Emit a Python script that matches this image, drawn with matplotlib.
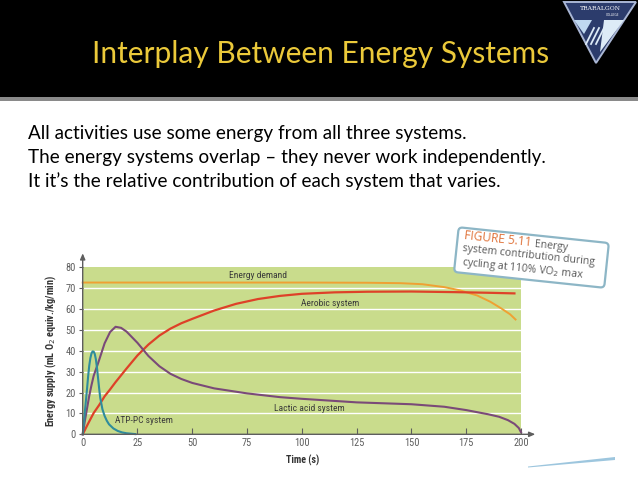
"""
Slide: Interplay Between Energy Systems
Energy system contribution during cycling at 110% VO2 max.
"""

import math

import matplotlib
matplotlib.use("Agg")
import matplotlib.pyplot as plt
import matplotlib.patches as mpatches
import matplotlib.transforms as mtransforms
from matplotlib import font_manager

# ── Data ──────────────────────────────────────────────────────────────────────
atp_t = [0, 0.5, 1, 1.5, 2, 2.5, 3, 3.5, 4, 4.5, 5, 5.5, 6, 6.5, 7, 7.5, 8,
         9, 10, 11, 12, 14, 16, 18, 20, 22, 24]
atp_v = [0, 5, 11, 16.5, 22, 28, 33, 36.5, 38.7, 39.7, 39.6, 38.5, 36, 32, 27,
         22, 17.5, 12, 8.8, 6.5, 4.8, 2.8, 1.6, 0.9, 0.5, 0.3, 0.1]

lactic_t = [0, 1, 2, 3, 4, 5, 7, 10, 12.5, 15, 17.5, 20, 25, 30, 35, 40, 45,
            50, 60, 75, 90, 100, 125, 150, 165, 175, 185, 190, 194, 197, 199, 200]
lactic_v = [0, 6.5, 12.5, 18.5, 23.5, 28, 34, 43.6, 49, 51.5, 51, 49.2, 43.8,
            37.5, 32.6, 29, 26.5, 24.6, 22, 19.6, 17.8, 17, 15.3, 14.4, 13.2,
            11.6, 9.6, 8.4, 6.8, 5, 3, 1]

aerobic_t = [0, 2.5, 5, 7.5, 10, 12.5, 15, 20, 25, 30, 35, 40, 45, 50, 60, 70,
             80, 90, 100, 115, 130, 150, 170, 185, 197]
aerobic_v = [0, 5.2, 10.2, 14, 18.2, 21.5, 25, 31.5, 37.8, 43, 47.3, 50.6,
             53.2, 55.3, 59.3, 62.5, 64.8, 66.3, 67.3, 68, 68.3, 68.4, 68.1,
             67.8, 67.5]

demand_t = [0, 50, 100, 130, 145, 155, 165, 172, 180, 186, 191, 195, 197.5]
demand_v = [72.7, 72.7, 72.7, 72.6, 72.4, 71.9, 70.5, 69, 66.5, 63.5, 60.3,
            57.5, 55]

x_ticks = [0, 25, 50, 75, 100, 125, 150, 175, 200]
y_ticks = [0, 10, 20, 30, 40, 50, 60, 70, 80]

body_lines = [
    "All activities use some energy from all three systems.",
    "The energy systems overlap \u2013 they never work independently.",
    "It it\u2019s the relative contribution of each system that varies.",
]

# ── Style ─────────────────────────────────────────────────────────────────────
W, H = 638, 478
TITLE_YELLOW = "#EBC93A"
PLOT_GREEN = "#C9DC8C"
AXIS_GREY = "#5E5E5E"
C_DEMAND = "#EFA133"
C_AEROBIC = "#DE4128"
C_LACTIC = "#7A4A78"
C_ATP = "#2F8C9C"
CARD_ANGLE = -6.0

_names = {f.name for f in font_manager.fontManager.ttflist}
NARROW = next((n for n in ("Liberation Sans Narrow", "Roboto Condensed", "DejaVu Sans Condensed")
               if n in _names), "DejaVu Sans")
SLIDE_FONT = "Lato" if "Lato" in _names else "DejaVu Sans"


def px(x, y):
    """Pixel (from top-left) -> figure fraction."""
    return x / W, 1 - y / H


fig = plt.figure(figsize=(W / 100, H / 100), dpi=100, facecolor="white")

# ── Header band ──────────────────────────────────────────────────────────────
fig.patches.append(mpatches.Rectangle(px(0, 97), 1, 97 / H, transform=fig.transFigure,
                                      facecolor="black", edgecolor="none", zorder=0))
fig.patches.append(mpatches.Rectangle(px(0, 101), 1, 4 / H, transform=fig.transFigure,
                                      facecolor="#8A8A8A", edgecolor="none", zorder=0))
fig.text(*px(321, 63), "Interplay Between Energy Systems", color=TITLE_YELLOW,
         fontsize=21.5, family=SLIDE_FONT, ha="center", va="baseline")

# logo (simple shield)
fig.patches.append(mpatches.Polygon([px(564, 2), px(636, 2), px(596, 63)], closed=True,
                                    transform=fig.transFigure, facecolor="#2C3C6C",
                                    edgecolor="#A9B6D4", linewidth=1.4, zorder=2))
fig.patches.append(mpatches.Polygon([px(574, 20), px(592, 20), px(584, 34)], closed=True,
                                    transform=fig.transFigure, facecolor="#BFD8F0",
                                    edgecolor="none", zorder=3))
fig.patches.append(mpatches.Polygon([px(604, 20), px(624, 20), px(600, 52)], closed=True,
                                    transform=fig.transFigure, facecolor="#DDEBF7",
                                    edgecolor="none", zorder=3))
for dx in (0, 5, 10):
    fig.lines.append(plt.Line2D([(586 + dx) / W, (594 + dx) / W],
                                [1 - 44 / H, 1 - 28 / H], transform=fig.transFigure,
                                color="#DDEBF7", lw=1.3, zorder=3))
fig.text(*px(600, 9), "TRARALGON", color="white", fontsize=4.3, ha="center",
         va="center", family="DejaVu Serif", zorder=4)
fig.text(*px(613, 15), "COLLEGE", color="white", fontsize=2.2, ha="center",
         va="center", zorder=4)

# ── Body text ────────────────────────────────────────────────────────────────
for i, line in enumerate(body_lines):
    fig.text(*px(28, 139 + 24 * i), line, fontsize=13.6, family=SLIDE_FONT,
             color="black", ha="left", va="baseline")

# ── Chart ────────────────────────────────────────────────────────────────────
x0, y0 = 82.7, 434.3
x1, y1 = 521.0, 267.3
ax = fig.add_axes([x0 / W, 1 - y0 / H, (x1 - x0) / W, (y0 - y1) / H])
ax.set_facecolor(PLOT_GREEN)
ax.set_xlim(0, 200)
ax.set_ylim(0, 80)
for s in ax.spines.values():
    s.set_visible(False)

ax.hlines(y_ticks[1:-1], 0, 200, color="white", lw=1.0, zorder=1)

ax.plot(demand_t, demand_v, color=C_DEMAND, lw=1.4, zorder=3, clip_on=False)
ax.plot(aerobic_t, aerobic_v, color=C_AEROBIC, lw=1.6, zorder=4, clip_on=False)
ax.plot(lactic_t, lactic_v, color=C_LACTIC, lw=1.5, zorder=4, clip_on=False)
ax.plot(atp_t, atp_v, color=C_ATP, lw=1.5, zorder=5, clip_on=False)

# axes with arrow heads
arrow = dict(arrowstyle="-|>,head_length=0.35,head_width=0.15", color=AXIS_GREY,
             lw=1.0, shrinkA=0, shrinkB=0)
ax.annotate("", xy=(206.5, 0), xytext=(0, 0), arrowprops=arrow,
            annotation_clip=False, zorder=6)
ax.annotate("", xy=(0, 86.7), xytext=(0, 0), arrowprops=arrow,
            annotation_clip=False, zorder=6)

ax.set_xticks(x_ticks)
ax.set_yticks(y_ticks)
ax.tick_params(axis="x", direction="in", length=4, width=0.8, color=AXIS_GREY,
               labelsize=7.5, labelcolor=AXIS_GREY, pad=3)
ax.tick_params(axis="y", direction="out", length=3, width=0.8, color=AXIS_GREY,
               labelsize=7.5, labelcolor=AXIS_GREY, pad=2)
for lab in ax.get_xticklabels() + ax.get_yticklabels():
    lab.set_family(NARROW)

lab_kw = dict(fontsize=6.8, family=NARROW, color="#3A3A3A", ha="center", va="center")
ax.text(80, 76.3, "Energy demand", **lab_kw)
ax.text(113, 62.7, "Aerobic system", **lab_kw)
ax.text(103.5, 12.4, "Lactic acid system", **lab_kw)
ax.text(28, 6.5, "ATP-PC system", **lab_kw)

ax.set_ylabel("Energy supply (mL O$_2$ equiv./kg/min)", fontsize=7.3,
              family=NARROW, fontweight="bold", color="#333333", labelpad=5)
fig.text(*px(303, 460), "Time (s)", fontsize=7.2, family=NARROW,
         fontweight="bold", color="#333333", ha="center", va="center")

# ── Figure caption card (rotated, built in pixel space) ─────────────────────
card = mpatches.FancyBboxPatch((0, 0), 151, 45,
                               boxstyle="round,pad=0,rounding_size=4",
                               facecolor="white", edgecolor="#8DB6C6",
                               linewidth=1.6, zorder=7)
card.set_transform(mtransforms.Affine2D().rotate_deg(CARD_ANGLE).translate(454, H - 272))
fig.patches.append(card)

cap_kw = dict(family="Open Sans", rotation=CARD_ANGLE, rotation_mode="anchor",
              ha="left", va="center", zorder=8)
fig.text(*px(464, 235.5), "FIGURE 5.11", color="#E0733A", fontsize=8.6, **cap_kw)

# place "Energy" right after the figure number, along the rotated baseline
renderer = fig.canvas.get_renderer()
probe = fig.text(0, 0, "FIGURE 5.11 ", fontsize=8.6, family="Open Sans")
adv = probe.get_window_extent(renderer).width
probe.remove()
ang = math.radians(CARD_ANGLE)
ex, ey = 464 + adv * math.cos(ang), 235.5 - adv * math.sin(ang)
fig.text(*px(ex, ey + 1.2), "Energy", color="#5A5A5A", fontsize=7.6, **cap_kw)
fig.text(*px(463, 249), "system contribution during", color="#5A5A5A", fontsize=7.6, **cap_kw)
fig.text(*px(461.5, 262.5), "cycling at 110% VO$_2$ max", color="#5A5A5A", fontsize=7.6,
         **cap_kw)

# swoosh at bottom right
fig.patches.append(mpatches.Polygon([px(528, 466.5), px(615, 457), px(615, 460),
                                     px(528, 467.5)], closed=True,
                                    transform=fig.transFigure, facecolor="#9DC6DE",
                                    edgecolor="none", zorder=2))

fig.savefig("out.png", dpi=100, facecolor="white")
